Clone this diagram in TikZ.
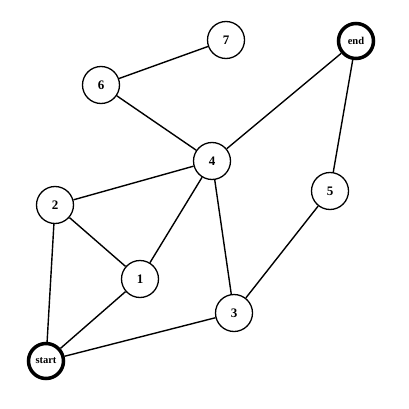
\documentclass[tikz,border=0pt]{standalone}
\usepackage{fontspec}
\setmainfont{Liberation Serif}
\usetikzlibrary{positioning}

\begin{document}
\begin{tikzpicture}[
    x=1pt, y=-1pt,
    vertex/.style={
        circle,
        draw,
        fill=white,
        minimum size=37pt,
        inner sep=0pt,
        line width=1.3pt,
        font=\fontsize{13}{15}\selectfont\bfseries
    },
    terminal/.style={vertex, line width=3.5pt, minimum size=35pt,
        font=\fontsize{10.5}{12}\selectfont\bfseries},
    edge/.style={line width=1.4pt}
]
\useasboundingbox (0,0) rectangle (409,409);

\node[vertex] (v7) at (226,40) {7};
\node[terminal] (vend) at (356,41) {end};
\node[vertex] (v6) at (101,85) {6};
\node[vertex] (v4) at (212,161) {4};
\node[vertex] (v2) at (55,205) {2};
\node[vertex] (v5) at (330,191) {5};
\node[vertex] (v1) at (140,279) {1};
\node[vertex] (v3) at (234,313) {3};
\node[terminal] (vstart) at (46,361) {start};

\draw[edge] (v7) -- (v6);
\draw[edge] (v6) -- (v4);
\draw[edge] (vend) -- (v4);
\draw[edge] (vend) -- (v5);
\draw[edge] (v4) -- (v2);
\draw[edge] (v4) -- (v1);
\draw[edge] (v4) -- (v3);
\draw[edge] (v2) -- (v1);
\draw[edge] (v2) -- (vstart);
\draw[edge] (v1) -- (vstart);
\draw[edge] (v3) -- (vstart);
\draw[edge] (v5) -- (v3);

\end{tikzpicture}
\end{document}
